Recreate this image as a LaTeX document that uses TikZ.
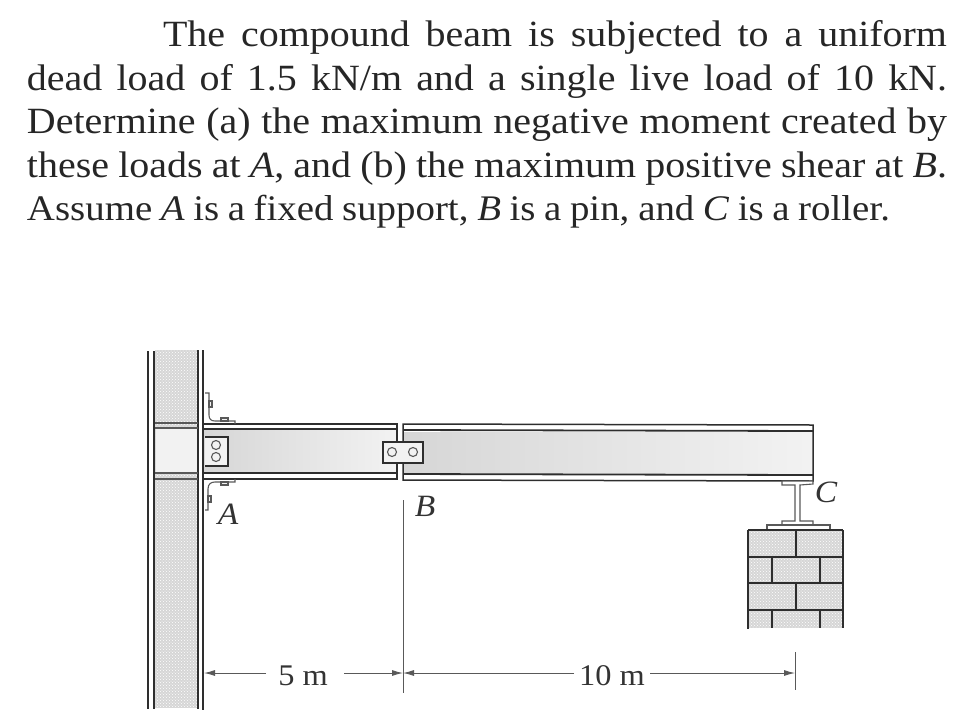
\documentclass[tikz,border=0pt]{standalone}
\usepackage{fontspec}
\setmainfont{Liberation Serif}[FakeStretch=1.08]
\definecolor{ink}{gray}{0.18}
\definecolor{stip}{gray}{0.84}
\definecolor{pale}{gray}{0.95}
\usetikzlibrary{arrows.meta,patterns}
\tikzset{
  x=1pt,y=-1pt,
  txt/.style={anchor=base west,inner sep=0pt,outer sep=0pt,text=black!85,font=\fontsize{37}{44}\selectfont},
  lab/.style={anchor=base,inner sep=0pt,text=black!80,font=\fontsize{31}{36}\selectfont\itshape},
  dimtxt/.style={anchor=base,inner sep=0pt,text=black!80,font=\fontsize{30}{36}\selectfont},
  heavy/.style={draw=ink,line width=1.8pt},
  outerline/.style={draw=ink,line width=1.5pt},
  thin part/.style={draw=black!65,line width=1.1pt},
  bolt/.style={circle,draw=black!65,line width=1.1pt,fill=pale,minimum size=9pt,inner sep=0pt},
  dimline/.style={draw=black!65,line width=0.9pt},
  dimarrow/.style={dimline,-{Latex[length=11pt,width=6pt]}},
  brick/.style={draw=ink,line width=1.6pt}
}
\begin{document}
\begin{tikzpicture}
\useasboundingbox (0,0) rectangle (968,726);
% text
\node[txt] (t1) at (163,46) {\makebox[784pt][s]{The compound beam is subjected to a uniform}};
\node[txt] (t2) at (27,90) {\makebox[920pt][s]{dead load of 1.5 kN/m and a single live load of 10 kN.}};
\node[txt] (t3) at (27,133) {\makebox[920pt][s]{Determine (a) the maximum negative moment created by}};
\node[txt] (t4) at (27,177) {\makebox[920pt][s]{these loads at \textit{A}, and (b) the maximum positive shear at \textit{B}.}};
\node[txt,font=\fontsize{36}{44}\selectfont] (t5) at (27,220) {\makebox[863pt][s]{Assume \textit{A} is a fixed support, \textit{B} is a pin, and \textit{C} is a roller.}};
% column
\fill[stip] (155,350) rectangle (198,708);
\fill[pattern=crosshatch dots,pattern color=white] (155,350) rectangle (198,708);
\draw[heavy] (148,351) -- (148,709);
\draw[heavy] (154,351) -- (154,709);
\draw[heavy] (198,350) -- (198,709);
\draw[heavy] (203,350) -- (203,710);
\fill[pale] (156,429) rectangle (197,473);
\draw[thin part] (155,423) -- (198,423) (155,428) -- (198,428);
\draw[thin part] (155,473) -- (198,473) (155,479) -- (198,479);
% beam fills
\shade[left color=stip,right color=pale] (204,430) rectangle (397,472);
\shade[left color=stip,right color=pale] (403,432) rectangle (812,474);
% beam AB
\draw[outerline] (204,424) -- (397,424) -- (397,479) -- (204,479);
\draw[heavy] (204,429) -- (397,429);
\draw[heavy] (204,473) -- (397,473);
% beam BC
\draw[outerline] (813,425) -- (403,424) -- (403,480) -- (813,481) -- cycle;
\draw[heavy] (403,430) -- (813,431);
\draw[heavy] (403,474) -- (813,475);
% plate at A
\draw[heavy,fill=pale] (205,437) -- (228,437) -- (228,466) -- (205,466);
\node[bolt] (a1) at (216,445) {};
\node[bolt] (a2) at (216,457) {};
% plate at B
\draw[heavy,fill=pale] (383,442) rectangle (423,463);
\node[bolt] (b1) at (392,452) {};
\node[bolt] (b2) at (413,452) {};
% angle clips at A
\draw[thin part] (205,393) -- (209,393) -- (209,415) .. controls (209,419) and (211,421) .. (215,421) -- (235,421) -- (235,424);
\draw[thin part] (205,510) -- (208,510) -- (208,489) .. controls (208,484) and (211,482) .. (215,482) -- (235,482) -- (235,479);
\draw[thin part,fill=pale] (209,401) rectangle (212,407);
\draw[thin part,fill=pale] (208,496) rectangle (211,502);
\draw[thin part,fill=pale] (221,418) rectangle (228,421);
\draw[thin part,fill=pale] (221,482) rectangle (228,485);
% support at C
\fill[stip] (748,530) rectangle (843,628);
\fill[pattern=crosshatch dots,pattern color=white] (748,530) rectangle (843,628);
\draw[thin part,fill=white] (782,481) -- (813,481) -- (813,484) -- (800,485) -- (800,521) -- (813,521) -- (813,525) -- (782,525) -- (782,521) -- (795,521) -- (795,485) -- (782,485) -- cycle;
\draw[thin part,fill=white] (767,530) -- (767,525) -- (830,525) -- (830,530);
\draw[brick] (748,530) -- (843,530);
\draw[brick] (748,530) -- (748,629);
\draw[brick] (843,530) -- (843,628);
\draw[brick] (748,557) -- (843,557) (748,583) -- (843,583) (748,610) -- (843,610);
\draw[brick] (796,530) -- (796,557) (772,557) -- (772,583) (820,557) -- (820,583);
\draw[brick] (796,583) -- (796,610) (772,610) -- (772,628) (820,610) -- (820,628);
% labels
\node[lab] (la) at (228,524) {A};
\node[lab] (lb) at (425,516) {B};
\node[lab] (lc) at (826,502) {C};
% dimensions
\coordinate (colface) at (204,673);
\coordinate (bt) at (403,500);
\coordinate (bb) at (403,693);
\coordinate (bm) at (403,673);
\coordinate (ct) at (795,652);
\coordinate (cb) at (795,690);
\coordinate (cm) at (795,673);
\node[dimtxt] (d5) at (303,685) {5 m};
\node[dimtxt] (d10) at (612,685) {10 m};
\coordinate (d5l) at (266,673);
\coordinate (d5r) at (344,673);
\coordinate (d10l) at (574,673);
\coordinate (d10r) at (650,673);
\draw[dimline] (bt) -- (bb);
\draw[dimline] (ct) -- (cb);
\draw[dimarrow] (d5l) -- (colface);
\draw[dimarrow] (d5r) -- (bm);
\draw[dimarrow] (d10l) -- (bm);
\draw[dimarrow] (d10r) -- (cm);
\end{tikzpicture}
\end{document}
